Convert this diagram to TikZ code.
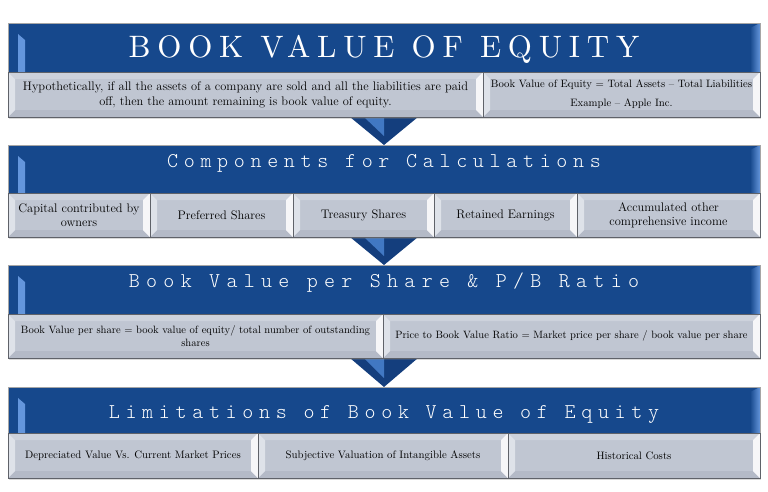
\documentclass[tikz,border=0pt]{standalone}
\usepackage{fontspec}
\usetikzlibrary{backgrounds,shadows}
\newfontfamily\headfont[LetterSpace=22]{lmroman10-regular.otf}
\newfontfamily\subheadfont[LetterSpace=27]{lmmonolt10-regular.otf}
\newfontfamily\subheadwide[LetterSpace=30]{lmmonolt10-regular.otf}
\definecolor{hdrblue}{RGB}{22,72,140}
\definecolor{hdrlight}{RGB}{100,150,220}
\definecolor{boxgray}{RGB}{192,198,210}
\definecolor{boxtop}{RGB}{205,210,220}
\definecolor{boxlow}{RGB}{180,186,199}
\definecolor{boxlight}{RGB}{222,226,233}
\definecolor{boxedge}{RGB}{95,98,105}
\definecolor{chevdark}{RGB}{20,62,125}
\definecolor{chevlight}{RGB}{65,120,195}
\def\bb{path picture bounding box}
\begin{document}
\begin{tikzpicture}[x=1pt, y=-1pt,
	header/.style={draw=gray!70, fill=hdrblue, anchor=north west, minimum width=752, inner sep=0pt, outer sep=0pt,
		path picture={
			\fill[hdrlight] ([shift={(10pt,-11pt)}]\bb.north west) -- ([shift={(17pt,-17pt)}]\bb.north west) -- ([xshift=17pt]\bb.south west) -- ([xshift=10pt]\bb.south west) -- cycle;
			\shade[left color=hdrblue, right color=hdrlight] ([shift={(-10pt,-5pt)}]\bb.north east) -- (\bb.north east) -- (\bb.south east) -- ([xshift=-10pt]\bb.south east) -- cycle;
		}},
	maintitle/.style={text=white, anchor=base, inner sep=0pt, font=\fontsize{31}{31}\headfont},
	subtitle/.style={text=white, anchor=base, inner sep=0pt, font=\fontsize{21}{21}\subheadfont},
	item/.style={draw=boxedge, fill=boxgray, anchor=north west, inner sep=0pt, outer sep=0pt, align=center,
		drop shadow={shadow xshift=0.5pt, shadow yshift=-2pt, opacity=0.3},
		path picture={
			\fill[boxtop] (\bb.north west) -- (\bb.north east) -- ([shift={(-7pt,-7pt)}]\bb.north east) -- ([shift={(7pt,-7pt)}]\bb.north west) -- cycle;
			\fill[boxlow] (\bb.south west) -- (\bb.south east) -- ([shift={(-7pt,7pt)}]\bb.south east) -- ([shift={(7pt,7pt)}]\bb.south west) -- cycle;
			\fill[boxlight] (\bb.north west) -- (\bb.south west) -- ([shift={(7pt,7pt)}]\bb.south west) -- ([shift={(7pt,-7pt)}]\bb.north west) -- cycle;
			\fill[white!85!boxgray] (\bb.north east) -- (\bb.south east) -- ([shift={(-7pt,7pt)}]\bb.south east) -- ([shift={(-7pt,-7pt)}]\bb.north east) -- cycle;
		}}]
	\useasboundingbox (0,0) rectangle (768,491);

	% band 1
	\node[header, minimum height=49] (h1) at (8,23) {};
	\node[maintitle] (t1) at ([yshift=-34pt]h1.north) {BOOK VALUE OF EQUITY};
	\node[item, minimum width=475, minimum height=45, font=\fontsize{12.4}{15}\selectfont] (b1a) at (h1.south west) {Hypothetically, if all the assets of a company are sold and all the liabilities are paid\\off, then the amount remaining is book value of equity.};
	\node[item, minimum width=277, minimum height=45, font=\fontsize{10.7}{19}\selectfont] (b1b) at (b1a.north east) {Book Value of Equity = Total Assets -- Total Liabilities\\Example -- Apple Inc.};

	% band 2
	\node[header, minimum height=48] (h2) at (8,145) {};
	\node[subtitle] (t2) at ([yshift=-22pt]h2.north) {Components for Calculations};
	\node[item, minimum width=142, minimum height=44, font=\fontsize{12.4}{14}\selectfont] (b2a) at (h2.south west) {Capital contributed by\\owners};
	\node[item, minimum width=143, minimum height=44, font=\fontsize{12.4}{14}\selectfont] (b2b) at (b2a.north east) {Preferred Shares};
	\node[item, minimum width=141, minimum height=44, font=\fontsize{12.4}{14}\selectfont] (b2c) at (b2b.north east) {Treasury Shares};
	\node[item, minimum width=143, minimum height=44, font=\fontsize{12.4}{14}\selectfont] (b2d) at (b2c.north east) {Retained Earnings};
	\node[item, minimum width=183, minimum height=44, font=\fontsize{12.4}{14}\selectfont] (b2e) at (b2d.north east) {Accumulated other\\comprehensive income};

	% band 3
	\node[header, minimum height=49] (h3) at (8,265) {};
	\node[subtitle, font=\fontsize{21}{21}\subheadwide] (t3) at ([yshift=-22pt]h3.north) {Book Value per Share \& P/B Ratio};
	\node[item, minimum width=375, minimum height=44, font=\fontsize{10.6}{13}\selectfont] (b3a) at (h3.south west) {Book Value per share = book value of equity/ total number of outstanding\\shares};
	\node[item, minimum width=377, minimum height=44, font=\fontsize{10.6}{13}\selectfont] (b3b) at (b3a.north east) {Price to Book Value Ratio = Market price per share / book value per share};

	% band 4
	\node[header, minimum height=46] (h4) at (8,387) {};
	\node[subtitle] (t4) at ([yshift=-31pt]h4.north) {Limitations of Book Value of Equity};
	\node[item, minimum width=250, minimum height=45, font=\fontsize{10.8}{13}\selectfont] (b4a) at (h4.south west) {Depreciated Value Vs. Current Market Prices};
	\node[item, minimum width=250, minimum height=45, font=\fontsize{10.8}{13}\selectfont] (b4b) at (b4a.north east) {Subjective Valuation of Intangible Assets};
	\node[item, minimum width=252, minimum height=45, font=\fontsize{10.8}{13}\selectfont] (b4c) at (b4b.north east) {Historical Costs};

	% chevrons between the bands
	\begin{scope}[on background layer]
		\foreach \u/\l in {b1a/h2, b2a/h3, b3a/h4}{
			\coordinate (top) at (\l.north |- \u.south);
			\fill[chevdark] ([xshift=-34pt]top) -- (\l.north) -- ([xshift=34pt]top) -- cycle;
			\fill[chevlight] ([xshift=-20pt]top) -- ([yshift=9pt]\l.north) -- (top) -- cycle;
		}
	\end{scope}
\end{tikzpicture}
\end{document}
